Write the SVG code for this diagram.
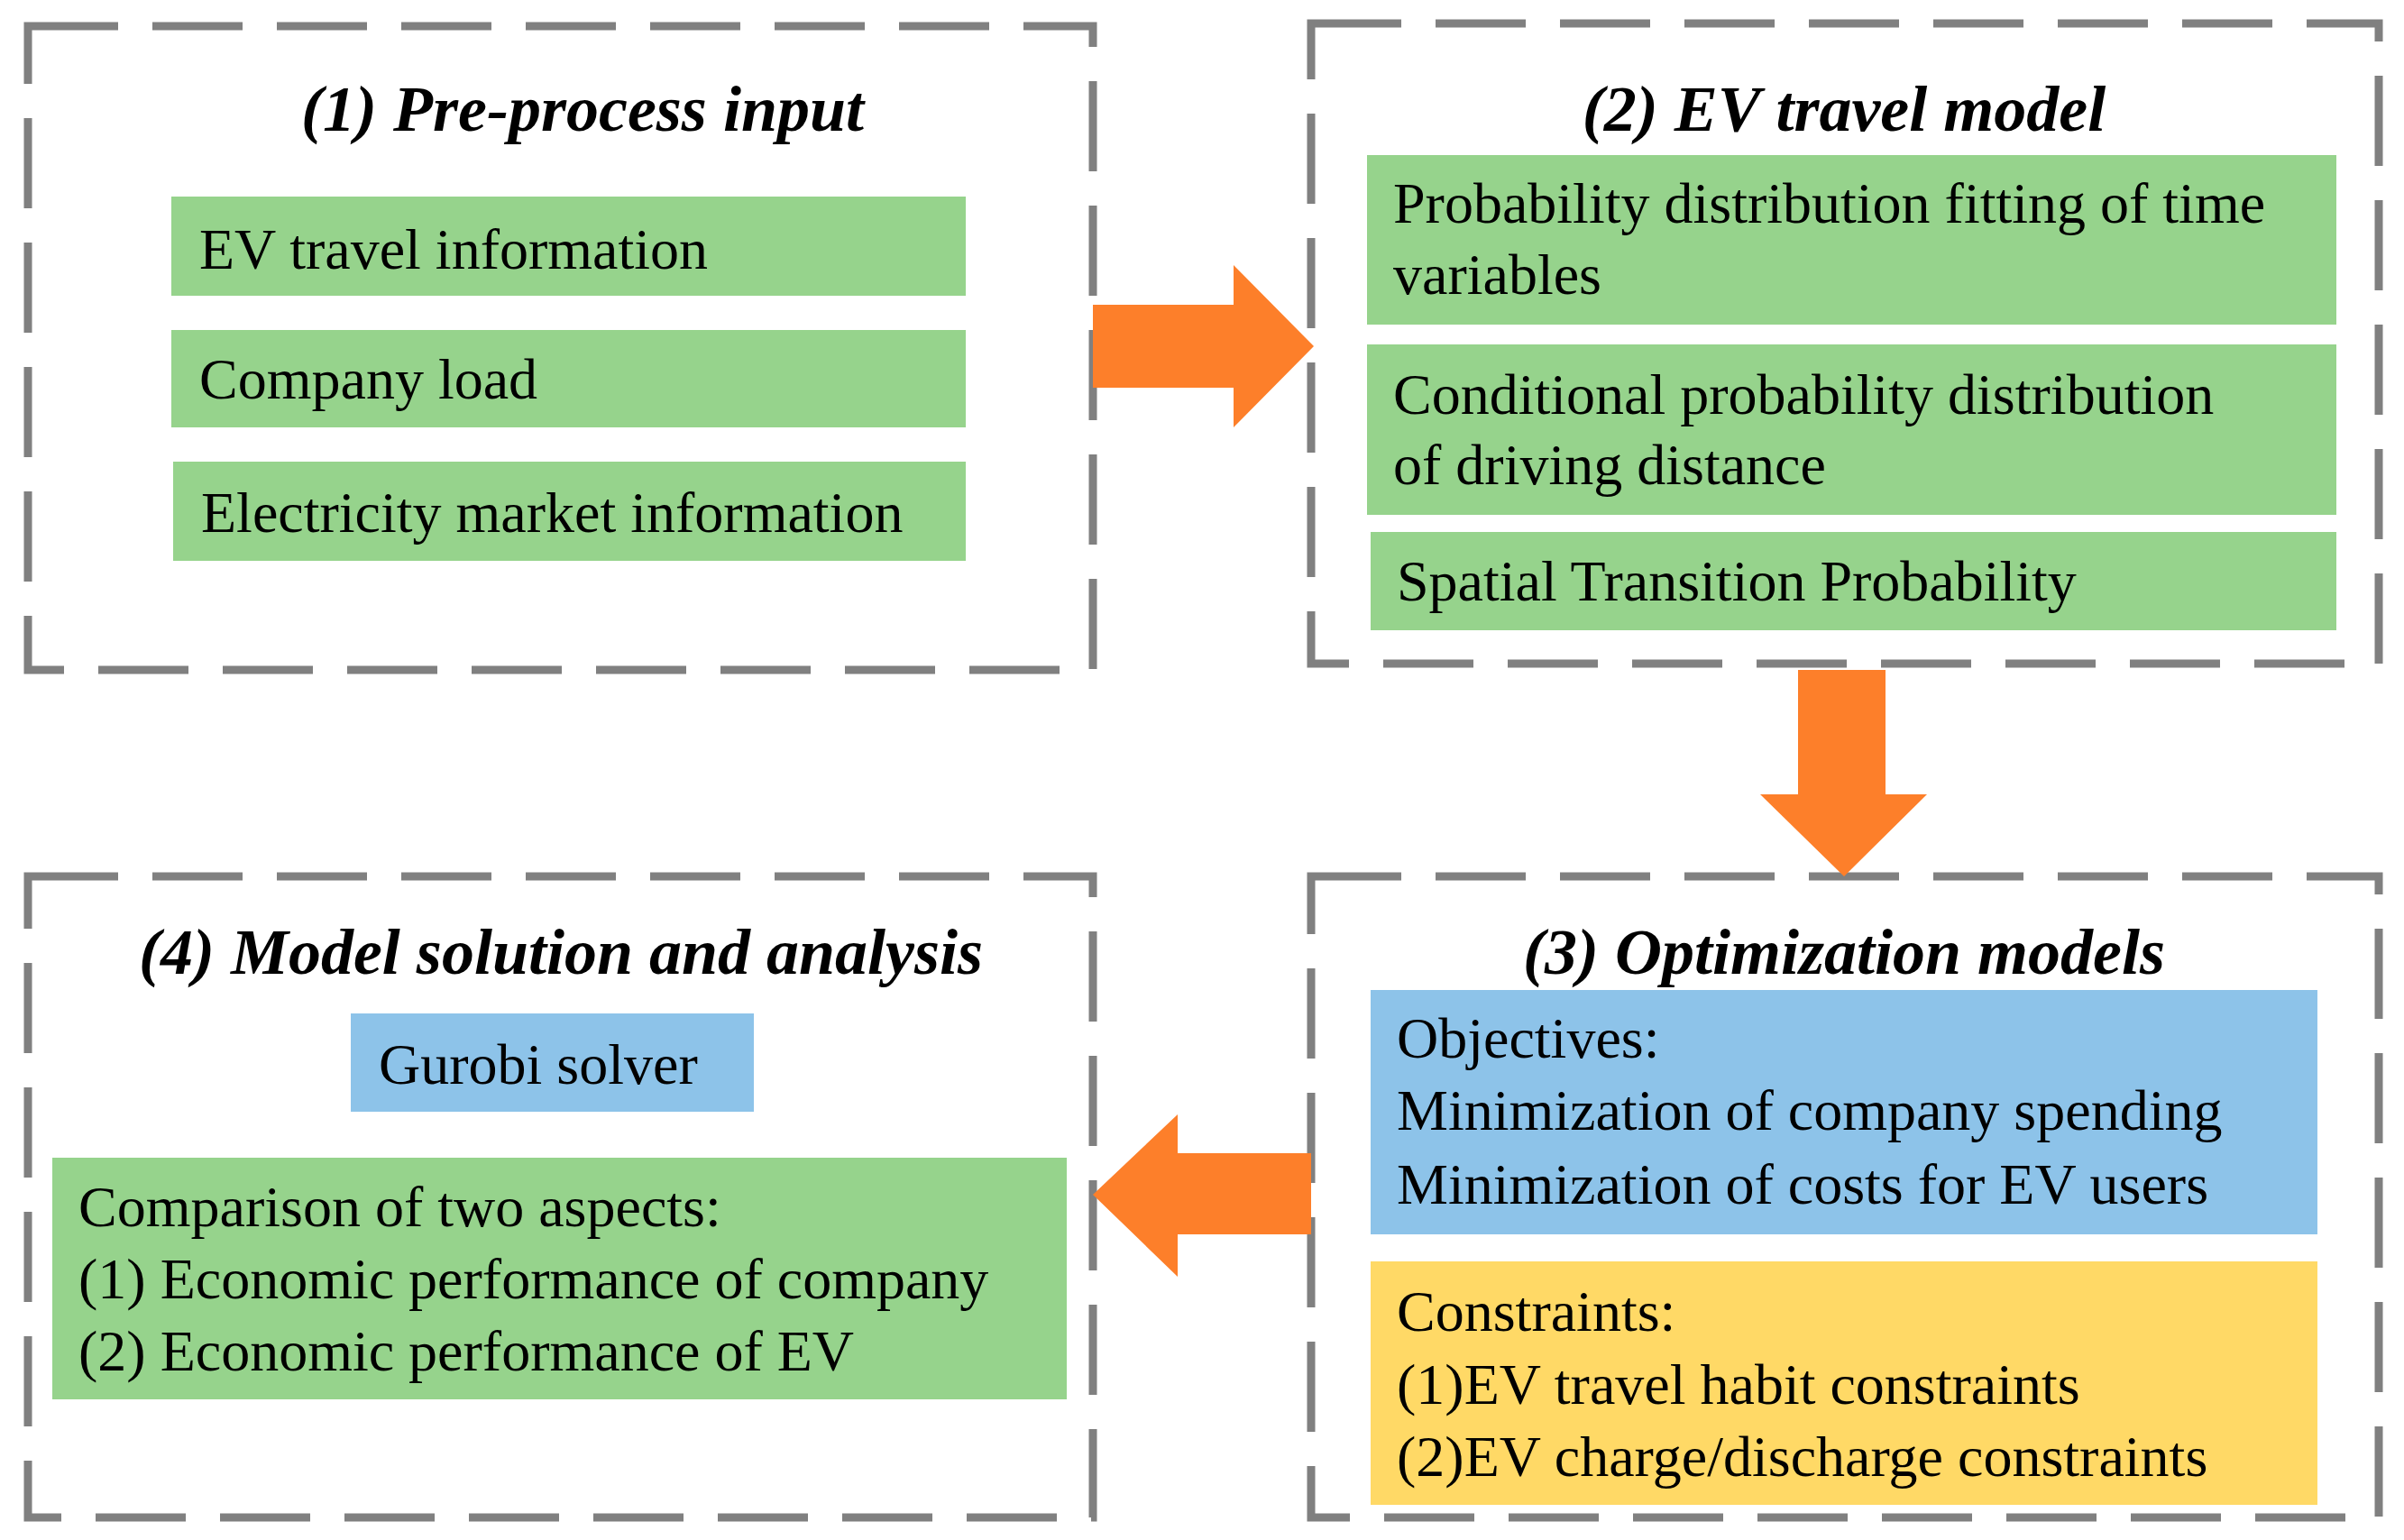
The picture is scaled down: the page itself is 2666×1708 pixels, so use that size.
<svg xmlns="http://www.w3.org/2000/svg" width="2666" height="1708" viewBox="0 0 2666 1708">
<style>
.frame{fill:none;stroke:#808080;stroke-width:9;stroke-dasharray:100 38}
.g{fill:#96D38C}.b{fill:#8DC3E9}.y{fill:#FFD966}
.t{font-family:"Liberation Serif",serif;font-size:64px;fill:#000}
.h{font-family:"Liberation Serif",serif;font-size:72px;font-weight:bold;font-style:italic;fill:#000;text-anchor:middle}
.arr{fill:#FD7F2A}
</style>
<rect width="2666" height="1708" fill="#fff"/>
<g id="box1">
<rect class="frame" x="31" y="29" width="1181" height="714"/>
<text class="h" x="646" y="145">(1) Pre-process input</text>
<rect class="g" x="190" y="218" width="881" height="110"/>
<text class="t" x="221" y="298">EV travel information</text>
<rect class="g" x="190" y="366" width="881" height="108"/>
<text class="t" x="221" y="442">Company load</text>
<rect class="g" x="192" y="512" width="879" height="110"/>
<text class="t" x="223" y="590">Electricity market information</text>
</g>
<g id="box2">
<rect class="frame" x="1454" y="26" width="1184" height="710"/>
<text class="h" x="2045" y="145">(2) EV travel model</text>
<rect class="g" x="1516" y="172" width="1075" height="188"/>
<text class="t" x="1545" y="247">Probability distribution fitting of time</text>
<text class="t" x="1545" y="326">variables</text>
<rect class="g" x="1516" y="382" width="1075" height="189"/>
<text class="t" x="1545" y="459">Conditional probability distribution</text>
<text class="t" x="1545" y="537">of driving distance</text>
<rect class="g" x="1520" y="590" width="1071" height="109"/>
<text class="t" x="1549" y="666">Spatial Transition Probability</text>
</g>
<g id="box3">
<rect class="frame" x="1454" y="972" width="1184" height="711"/>
<text class="h" x="2045" y="1080">(3) Optimization models</text>
<rect class="b" x="1520" y="1098" width="1050" height="271"/>
<text class="t" x="1549" y="1173">Objectives:</text>
<text class="t" x="1549" y="1253">Minimization of company spending</text>
<text class="t" x="1549" y="1335">Minimization of costs for EV users</text>
<rect class="y" x="1520" y="1399" width="1050" height="270"/>
<text class="t" x="1549" y="1476">Constraints:</text>
<text class="t" x="1549" y="1557">(1)EV travel habit constraints</text>
<text class="t" x="1549" y="1637">(2)EV charge/discharge constraints</text>
</g>
<g id="box4">
<rect class="frame" x="31" y="972" width="1181" height="711"/>
<text class="h" x="622" y="1080">(4) Model solution and analysis</text>
<rect class="b" x="389" y="1124" width="447" height="109"/>
<text class="t" x="420" y="1202">Gurobi solver</text>
<rect class="g" x="58" y="1284" width="1125" height="268"/>
<text class="t" x="87" y="1360">Comparison of two aspects:</text>
<text class="t" x="87" y="1440">(1) Economic performance of company</text>
<text class="t" x="87" y="1520">(2) Economic performance of EV</text>
</g>
<g id="connectors">
<polygon class="arr" points="1212,338 1368,338 1368,294 1457,384 1368,474 1368,430 1212,430"/>
<polygon class="arr" points="1994,743 2091,743 2091,881 2137,881 2045,972 1952,881 1994,881"/>
<polygon class="arr" points="1454,1279 1306,1279 1306,1236 1212,1325 1306,1416 1306,1369 1454,1369"/>
</g>
</svg>
